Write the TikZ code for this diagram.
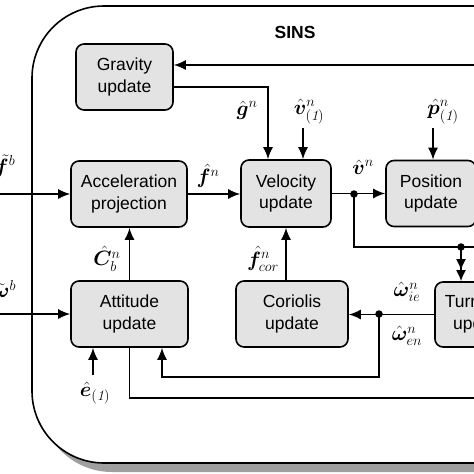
\documentclass[tikz,border=0pt]{standalone}
\usepackage{amsmath,bm}
\usepackage{fontspec}
\setsansfont{Liberation Sans}
\usetikzlibrary{arrows.meta,calc}
\tikzset{
  blk/.style={draw, line width=1.6pt, fill=gray!22, rounded corners=8pt, align=center,
    font=\fontsize{17.5}{21.5}\selectfont\sffamily, inner sep=0pt},
  lbl/.style={font=\fontsize{20.74}{24}\selectfont, inner sep=0pt},
  ln/.style={line width=1.6pt},
  arr/.style={ln, -{Latex[length=12pt,width=10pt]}},
  darr/.style={ln, -{Latex[length=11pt,width=10pt]Latex[length=11pt,width=10pt]}},
  dot/.style={circle, fill=black, inner sep=0pt, minimum size=7.5pt},
}
\begin{document}
\begin{tikzpicture}[x=1pt,y=-1pt]
\useasboundingbox (0,0) rectangle (474,474);
\begin{scope}
\clip (0,0) rectangle (474,474);
% frame with shadow
\fill[gray!75, rounded corners=72pt] (40,13) rectangle (570,472);
\draw[line width=1.6pt, fill=white, rounded corners=72pt] (32,6) rectangle (562,463);
\node[font=\fontsize{17.5}{20}\selectfont\sffamily\bfseries] (sins) at (295,32) {SINS};
% blocks
\node[blk, minimum width=97pt, minimum height=66pt] (grav) at (124.5,77) {Gravity\\update};
\node[blk, minimum width=116pt, minimum height=66pt] (acc) at (129,194) {Acceleration\\projection};
\node[blk, minimum width=90pt, minimum height=67pt] (vel) at (286,193.5) {Velocity\\update};
\node[blk, minimum width=90pt, minimum height=66pt] (pos) at (431,193.5) {Position\\update};
\node[blk, minimum width=117pt, minimum height=66pt] (att) at (129.5,314) {Attitude\\update};
\node[blk, minimum width=112pt, minimum height=66pt] (cor) at (292,314) {Coriolis\\update};
\node[blk, minimum width=90pt, minimum height=65pt] (turn) at (480,314.5) {Turn rate\\update};
% coordinates
\coordinate (rin) at (490,65);
\coordinate (v1) at (303,128);
\coordinate (p1) at (433,128);
\coordinate (fin) at (-5,194);
\coordinate (win) at (-5,314);
\coordinate (d1) at (354,194);
\coordinate (d2) at (461,247);
\coordinate (vout) at (490,247);
\coordinate (d3) at (379,314);
\coordinate (c3) at (162,377);
\coordinate (e1) at (93,375);
\coordinate (rout) at (490,398);
% connectors
\draw[arr] (rin) -- (rin -| grav.east);
\draw[arr] ([yshift=-10pt]grav.east) -| ([xshift=-18pt]vel.north);
\draw[arr] (v1) -- (v1 |- vel.north);
\draw[arr] (p1) -- (p1 |- pos.north);
\draw[arr] (fin) -- (acc.west);
\draw[arr] (acc.east) -- (acc.east -| vel.west);
\draw[arr] (vel.east) -- (vel.east -| pos.west);
\draw[ln] (d1) |- (d2) -- (vout);
\draw[darr] (d2) -- (d2 |- turn.north);
\draw[arr] (att.north) -- (att.north |- acc.south);
\draw[arr] (vel.south |- cor.north) -- (vel.south);
\draw[arr] (win) -- (att.west);
\draw[arr] (turn.west) -- (turn.west -| cor.east);
\draw[arr] (d3) |- (c3) -- (c3 |- att.south);
\draw[arr] (e1) -- (e1 |- att.south);
\draw[ln] (att.south) |- (rout);
\node[dot] at (d1) {};
\node[dot] at (d2) {};
\node[dot] at (d3) {};
% labels
\node[lbl] (lfb) at (5,166) {$\tilde{\bm{f}}^{b}$};
\node[lbl] (lwb) at (5,289) {$\tilde{\bm{\omega}}^{b}$};
\node[lbl] (lfn) at (208,176) {$\hat{\bm{f}}^{n}$};
\node[lbl] (lgn) at (247,110) {$\hat{\bm{g}}^{n}$};
\node[lbl] (lv1) at (309,112) {$\hat{\bm{v}}^{n}_{(\mathit{1})}$};
\node[lbl] (lp1) at (443,112) {$\hat{\bm{p}}^{n}_{(\mathit{1})}$};
\node[lbl] (lvn) at (363,167) {$\hat{\bm{v}}^{n}$};
\node[lbl] (lcb) at (107,259) {$\hat{\bm{C}}^{n}_{b}$};
\node[lbl] (lfc) at (263,259) {$\hat{\bm{f}}^{n}_{cor}$};
\node[lbl] (lie) at (407,292) {$\hat{\bm{\omega}}^{n}_{ie}$};
\node[lbl] (len) at (407,336) {$\hat{\bm{\omega}}^{n}_{en}$};
\node[lbl] (le1) at (95,393) {$\hat{\bm{e}}_{(\mathit{1})}$};
\end{scope}
\end{tikzpicture}
\end{document}
